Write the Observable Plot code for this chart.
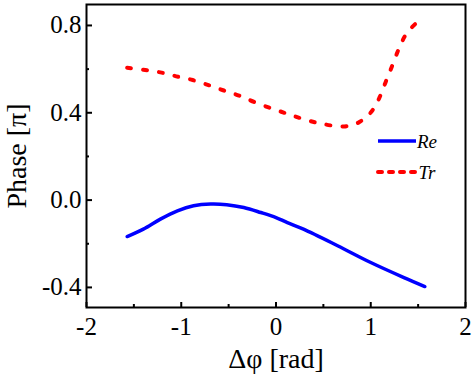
<!DOCTYPE html>
<html>
<head>
<meta charset="utf-8">
<script src="https://cdn.jsdelivr.net/npm/d3@7"></script>
<script src="https://cdn.jsdelivr.net/npm/@observablehq/plot@0.6"></script>
<style>
  html, body { margin: 0; padding: 0; background: white; }
  svg text { font-family: "Liberation Serif", "Times New Roman", serif !important; font-variant: normal !important; font-variant-numeric: normal !important; }
</style>
</head>
<body>
<div id="chart"></div>
<script>
// Series: Re (blue solid)
const reX = [-1.571, -1.40, -1.22, -1.04, -0.87, -0.69, -0.52, -0.34, -0.16, 0.0, 0.12, 0.29, 0.65, 1.0, 1.35, 1.571];
const reY = [-0.167, -0.133, -0.087, -0.049, -0.026, -0.018, -0.021, -0.034, -0.057, -0.080, -0.103, -0.133, -0.209, -0.286, -0.355, -0.396];
// Series: Tr (red dashed)
const trX = [-1.571, -1.40, -1.22, -1.07, -0.88, -0.70, -0.55, -0.39, -0.20, 0.0, 0.15, 0.29, 0.47, 0.72, 0.87, 1.0, 1.085, 1.156, 1.226, 1.296, 1.374, 1.49, 1.571];
const trY = [0.606, 0.597, 0.585, 0.569, 0.550, 0.525, 0.502, 0.479, 0.444, 0.413, 0.391, 0.371, 0.351, 0.337, 0.355, 0.401, 0.463, 0.539, 0.615, 0.692, 0.760, 0.814, 0.832];

const xTicks = [-2, -1, 0, 1, 2];
const xMinor = [-1.5, -0.5, 0.5, 1.5];
const yTicks = [-0.4, 0.0, 0.4, 0.8];
const yMinor = [-0.2, 0.2, 0.6];
const seriesNames = ["Re", "Tr"];
const seriesColors = ["#0000ff", "#ff0000"];
const xLabel = "Δφ [rad]";
const yLabel = "Phase [π]";

const reData = reX.map((x, i) => ({x, y: reY[i]}));
const trData = trX.map((x, i) => ({x, y: trY[i]}));

const font = "Liberation Serif";

const chart = Plot.plot({
  width: 474,
  height: 374,
  marginLeft: 86,
  marginRight: 9,
  marginTop: 4,
  marginBottom: 67,
  style: {fontFamily: font, fontSize: "24px", background: "white", color: "black"},
  x: {domain: [-2, 2]},
  y: {domain: [-0.492, 0.896]},
  marks: [
    Plot.line(reData, {x: "x", y: "y", stroke: seriesColors[0], strokeWidth: 3.5, curve: "catmull-rom"}),
    Plot.line(trData, {x: "x", y: "y", stroke: seriesColors[1], strokeWidth: 4, strokeDasharray: "4,12", strokeLinecap: "round", curve: "catmull-rom"}),
    // inward ticks
    Plot.axisX(xTicks, {tickSize: -5, strokeWidth: 2, fill: "none", label: null}),
    Plot.axisX(xMinor, {tickSize: -3, strokeWidth: 2, fill: "none", label: null}),
    Plot.axisY(yTicks, {tickSize: -6, strokeWidth: 2, fill: "none", label: null}),
    Plot.axisY(yMinor, {tickSize: -3, strokeWidth: 2, fill: "none", label: null}),
    // tick labels
    Plot.axisX(xTicks, {tickSize: 0, tickPadding: 10, fontSize: 25, fontFamily: font, fontVariant: "normal", tickFormat: d => String(d), label: null}),
    Plot.axisY(yTicks, {tickSize: 0, tickPadding: 5, fontSize: 25, fontFamily: font, fontVariant: "normal", tickFormat: d => d.toFixed(1), label: null}),
    // axis titles
    Plot.axisX([], {tickSize: 0, fontSize: 28, fontFamily: font,
      label: xLabel, labelAnchor: "center", labelOffset: 60, labelArrow: "none"}),
    Plot.axisY([], {tickSize: 0, fontSize: 28, fontFamily: font,
      label: yLabel, labelAnchor: "center", labelOffset: 80, labelArrow: "none"}),
    Plot.frame({stroke: "black", strokeWidth: 2})
  ]
});

document.getElementById("chart").appendChild(chart);

// Legend inside the plot area, right side under the curves
const svg = d3.select(chart);
const frameRight = 474 - 9;
const leg = svg.append("g").attr("font-family", font).attr("font-size", 19).attr("font-style", "italic");
const legY = [141, 172];
seriesNames.forEach((name, i) => {
  leg.append("line")
    .attr("x1", frameRight - 87).attr("x2", frameRight - 49)
    .attr("y1", legY[i]).attr("y2", legY[i])
    .attr("stroke", seriesColors[i])
    .attr("stroke-width", i === 0 ? 3.5 : 4)
    .attr("stroke-linecap", i === 0 ? "butt" : "round")
    .attr("stroke-dasharray", i === 0 ? null : "4,7");
  leg.append("text")
    .attr("x", frameRight - 38).attr("y", legY[i] + 6.5)
    .attr("fill", "black")
    .text(name);
});
</script>
</body>
</html>
